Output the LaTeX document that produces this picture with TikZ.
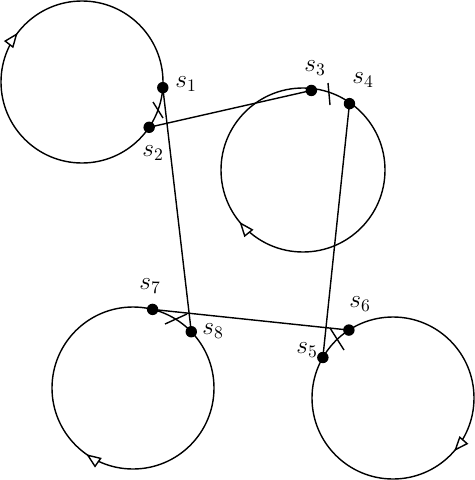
\documentclass[tikz,border=0pt]{standalone}
\usepackage{xcolor}
\usepackage{amsmath}
\usepackage{fix-cm}
\usepackage{tikz}
\usetikzlibrary{arrows.meta,decorations.markings}

\begin{document}
\begin{tikzpicture}[x=0.02cm,y=-0.02cm,line width=0.8pt,
    dot/.style={circle,fill,inner sep=0pt,minimum size=6.5pt},
    lbl/.style={inner sep=0pt,font=\fontsize{14.4}{17}\selectfont},
    ring/.style={postaction={decorate},decoration={markings,
      mark=at position #1 with {\arrow{Triangle[fill=white,length=8.5pt,width=6.5pt]}}}}]
    \useasboundingbox (0,0) rectangle (474,480);
    \coordinate (c1) at (82,82);
    \coordinate (c2) at (303,170);
    \coordinate (c3) at (133,388);
    \coordinate (c4) at (393,398);
    \draw[ring=0.604] (c1) ++(0:81) arc[start angle=0,end angle=360,radius=81];
    \draw[ring=0.391] (c2) ++(0:82) arc[start angle=0,end angle=360,radius=82];
    \draw[ring=0.348] (c3) ++(0:81) arc[start angle=0,end angle=360,radius=81];
    \draw[ring=0.114] (c4) ++(0:81) arc[start angle=0,end angle=360,radius=81];
    \path (c1) ++(4:81) coordinate (p1) (c1) ++(34:81) coordinate (p2)
          (c2) ++(-84:80) coordinate (p3) (c2) ++(-55:81) coordinate (p4)
          (c4) ++(210:81) coordinate (p5) (c4) ++(-123:81) coordinate (p6)
          (c3) ++(-76:81) coordinate (p7) (c3) ++(-44:81) coordinate (p8);
    \draw (p2) -- (p3);
    \draw (p1) -- (p8);
    \draw (p4) -- (p5);
    \draw (p7) -- (p6);
    % cuts
    \draw (153,102) -- (163,118);
    \draw (328,83) -- (330,105);
    \draw (165,324) -- (187,314);
    \draw (330,328) -- (344,350);
    \foreach \i in {1,...,8}
      \node[dot] (s\i) at (p\i) {};
    \node[lbl] (l1) at (186,84) {$s_1$};
    \node[lbl] (l2) at (153,153) {$s_2$};
    \node[lbl] (l3) at (315,68) {$s_3$};
    \node[lbl] (l4) at (363,80) {$s_4$};
    \node[lbl] (l5) at (307,350) {$s_5$};
    \node[lbl] (l6) at (360,304) {$s_6$};
    \node[lbl] (l7) at (150,286) {$s_7$};
    \node[lbl] (l8) at (213,331) {$s_8$};
\end{tikzpicture}
\end{document}
